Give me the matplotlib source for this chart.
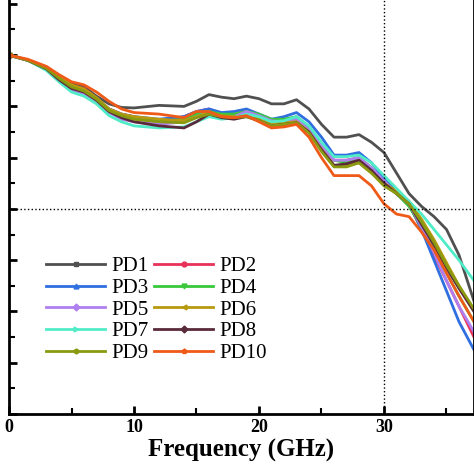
import numpy as np
import matplotlib.pyplot as plt

plt.rcParams['font.family'] = ['Liberation Serif', 'DejaVu Serif']

freq = [0, 1.5, 3, 4, 5, 6, 7, 8, 9, 10, 12, 14, 15, 16, 17, 18, 19, 20, 21, 22, 23, 24, 25, 26, 27, 28, 29, 30, 31, 32, 33, 34, 35, 36, 37.2]

pd1 = [0, -0.1, -0.25, -0.4, -0.55, -0.62, -0.8, -0.95, -1.02, -1.03, -0.98, -1.0, -0.9, -0.77, -0.82, -0.85, -0.8, -0.85, -0.95, -0.95, -0.87, -1.05, -1.35, -1.6, -1.6, -1.55, -1.7, -1.9, -2.3, -2.7, -2.95, -3.15, -3.4, -3.9, -4.8]
pd2 = [0, -0.1, -0.25, -0.45, -0.6, -0.65, -0.85, -1.05, -1.15, -1.2, -1.3, -1.2, -1.1, -1.05, -1.15, -1.15, -1.1, -1.2, -1.3, -1.25, -1.25, -1.45, -1.8, -2.05, -2.05, -2.0, -2.2, -2.5, -2.7, -2.9, -3.4, -3.9, -4.4, -4.9, -5.5]
pd3 = [0, -0.1, -0.25, -0.45, -0.6, -0.68, -0.85, -1.05, -1.15, -1.2, -1.25, -1.2, -1.1, -1.05, -1.12, -1.1, -1.05, -1.15, -1.25, -1.2, -1.12, -1.3, -1.6, -1.95, -1.95, -1.9, -2.1, -2.4, -2.65, -2.9, -3.4, -4.0, -4.6, -5.2, -5.75]
pd4 = [0, -0.1, -0.25, -0.45, -0.62, -0.7, -0.88, -1.1, -1.2, -1.25, -1.3, -1.25, -1.15, -1.1, -1.15, -1.15, -1.1, -1.15, -1.25, -1.25, -1.2, -1.4, -1.75, -2.05, -2.1, -2.0, -2.2, -2.5, -2.7, -2.95, -3.35, -3.8, -4.25, -4.7, -5.2]
pd5 = [0, -0.1, -0.28, -0.5, -0.68, -0.75, -0.9, -1.12, -1.25, -1.3, -1.35, -1.3, -1.2, -1.12, -1.2, -1.2, -1.1, -1.18, -1.28, -1.3, -1.25, -1.45, -1.75, -2.05, -2.05, -2.0, -2.2, -2.45, -2.7, -2.9, -3.35, -3.85, -4.4, -4.9, -5.4]
pd6 = [0, -0.1, -0.25, -0.42, -0.58, -0.66, -0.83, -1.05, -1.15, -1.2, -1.25, -1.28, -1.2, -1.12, -1.18, -1.2, -1.18, -1.25, -1.35, -1.32, -1.3, -1.5, -1.85, -2.15, -2.15, -2.1, -2.3, -2.5, -2.65, -2.85, -3.2, -3.6, -4.05, -4.5, -5.0]
pd7 = [0, -0.1, -0.3, -0.52, -0.72, -0.8, -0.95, -1.18, -1.3, -1.38, -1.42, -1.4, -1.3, -1.2, -1.25, -1.22, -1.15, -1.2, -1.3, -1.28, -1.2, -1.38, -1.7, -1.98, -1.98, -1.95, -2.1, -2.35, -2.6, -2.85, -3.1, -3.4, -3.7, -4.0, -4.4]
pd8 = [0, -0.1, -0.27, -0.48, -0.65, -0.72, -0.88, -1.1, -1.22, -1.3, -1.38, -1.42, -1.3, -1.15, -1.22, -1.25, -1.2, -1.28, -1.38, -1.35, -1.32, -1.5, -1.85, -2.15, -2.12, -2.05, -2.25, -2.5, -2.7, -2.9, -3.3, -3.7, -4.15, -4.55, -5.0]
pd9 = [0, -0.1, -0.26, -0.45, -0.62, -0.7, -0.86, -1.08, -1.18, -1.25, -1.3, -1.32, -1.22, -1.15, -1.2, -1.22, -1.2, -1.28, -1.38, -1.35, -1.32, -1.52, -1.88, -2.18, -2.18, -2.1, -2.3, -2.55, -2.7, -2.9, -3.25, -3.65, -4.1, -4.5, -4.95]
pd10 = [0, -0.08, -0.22, -0.38, -0.52, -0.58, -0.72, -0.9, -1.05, -1.12, -1.15, -1.22, -1.1, -1.1, -1.2, -1.22, -1.18, -1.3, -1.42, -1.4, -1.35, -1.6, -2.0, -2.35, -2.35, -2.35, -2.55, -2.9, -3.1, -3.15, -3.45, -3.8, -4.25, -4.7, -5.2]

labels = ['PD1', 'PD2', 'PD3', 'PD4', 'PD5', 'PD6', 'PD7', 'PD8', 'PD9', 'PD10']
series = [pd1, pd2, pd3, pd4, pd5, pd6, pd7, pd8, pd9, pd10]
colors = ['#505050', '#e8325a', '#2f6fe0', '#38c83a', '#b07ff0', '#b89a10', '#50ecc8', '#5a2a3a', '#8a9a10', '#f05a18']
markers = ['s', 'o', '^', 'v', 'D', '<', '>', 'D', 'h', 'p']

fig = plt.figure(figsize=(4.74, 4.74), dpi=100)
# axes extend above the visible image so the top frame is cropped, as in the reference
ax = fig.add_axes([9 / 474, 60 / 474, 1 - 9 / 474, 1.1 - 60 / 474])

handles = []
for y, lab, c, m in zip(series, labels, colors, markers):
    h, = ax.plot(freq, y, color=c, lw=2.0, marker=m, ms=3.5, markevery=1000, label=lab)
    handles.append(h)

ax.axhline(-3, color='black', ls=':', lw=1)
ax.axvline(30, color='black', ls=':', lw=1)

ax.set_xlim(0, 37.2)
ax.set_ylim(-7, 2.0)
ax.set_xticks([0, 10, 20, 30])
ax.set_xticks([5, 15, 25, 35], minor=True)
ax.set_yticks(np.arange(-7, 2, 1))
ax.set_yticks(np.arange(-6.5, 2, 1), minor=True)
ax.set_yticklabels([])
ax.tick_params(direction='in', width=2, length=6, labelsize=13)
ax.tick_params(which='minor', direction='in', width=1.5, length=4)
for t in ax.get_xticklabels():
    t.set_fontweight('bold')
for s in ax.spines.values():
    s.set_linewidth(2)

ax.set_xlabel('Frequency (GHz)', fontsize=18, fontweight='bold', labelpad=2)
order = [0, 2, 4, 6, 8, 1, 3, 5, 7, 9]
ax.legend([handles[i] for i in order], [labels[i] for i in order], ncol=2,
          loc='lower left', bbox_to_anchor=(0.04, 0.07), frameon=False,
          fontsize=15, handlelength=2.8, handletextpad=0.3, columnspacing=0.3,
          labelspacing=0.1)

fig.savefig('out.png', dpi=100)
